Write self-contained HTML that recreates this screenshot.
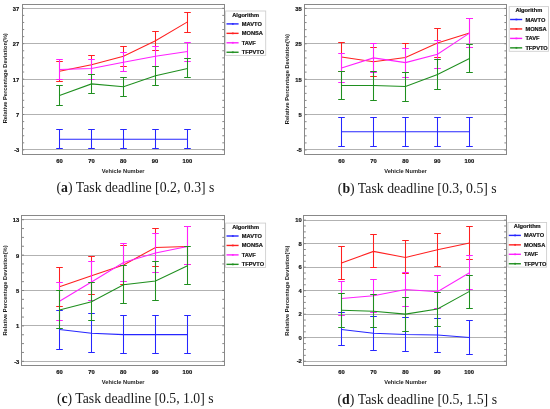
<!DOCTYPE html>
<html><head><meta charset="utf-8"><title>Figure</title>
<style>
html,body{margin:0;padding:0;background:#fff;}
body{width:550px;height:409px;overflow:hidden;}
svg{display:block;filter:blur(0.35px);}
.tk{font-family:'Liberation Sans', Arial, sans-serif;font-weight:bold;font-size:5.8px;fill:#111;stroke:#111;stroke-width:0.18px;}
.ax{font-family:'Liberation Sans', Arial, sans-serif;font-weight:bold;font-size:5.7px;fill:#1a1a1a;}
.lg{font-family:'Liberation Sans', Arial, sans-serif;font-weight:bold;font-size:5.7px;fill:#111;stroke:#111;stroke-width:0.18px;}
.cap{font-family:'Liberation Serif', 'Times New Roman', serif;font-size:14px;fill:#1a1a1a;}
</style></head>
<body>
<svg width="550" height="409" viewBox="0 0 550 409">
<rect width="550" height="409" fill="#fff"/>
<g>
<line x1="22" y1="149.5" x2="224.5" y2="149.5" stroke="#b2b2b2" stroke-width="1"/>
<line x1="22" y1="114.5" x2="224.5" y2="114.5" stroke="#b2b2b2" stroke-width="1"/>
<line x1="22" y1="79.5" x2="224.5" y2="79.5" stroke="#b2b2b2" stroke-width="1"/>
<line x1="22" y1="43.5" x2="224.5" y2="43.5" stroke="#b2b2b2" stroke-width="1"/>
<line x1="22" y1="8.5" x2="224.5" y2="8.5" stroke="#b2b2b2" stroke-width="1"/>
<line x1="22" y1="8.3" x2="24.2" y2="8.3" stroke="#7a7a7a" stroke-width="0.9"/>
<line x1="222.3" y1="8.3" x2="224.5" y2="8.3" stroke="#7a7a7a" stroke-width="0.9"/>
<line x1="22" y1="15.38" x2="24.2" y2="15.38" stroke="#7a7a7a" stroke-width="0.9"/>
<line x1="222.3" y1="15.38" x2="224.5" y2="15.38" stroke="#7a7a7a" stroke-width="0.9"/>
<line x1="22" y1="22.46" x2="24.2" y2="22.46" stroke="#7a7a7a" stroke-width="0.9"/>
<line x1="222.3" y1="22.46" x2="224.5" y2="22.46" stroke="#7a7a7a" stroke-width="0.9"/>
<line x1="22" y1="29.54" x2="24.2" y2="29.54" stroke="#7a7a7a" stroke-width="0.9"/>
<line x1="222.3" y1="29.54" x2="224.5" y2="29.54" stroke="#7a7a7a" stroke-width="0.9"/>
<line x1="22" y1="36.62" x2="24.2" y2="36.62" stroke="#7a7a7a" stroke-width="0.9"/>
<line x1="222.3" y1="36.62" x2="224.5" y2="36.62" stroke="#7a7a7a" stroke-width="0.9"/>
<line x1="22" y1="43.7" x2="24.2" y2="43.7" stroke="#7a7a7a" stroke-width="0.9"/>
<line x1="222.3" y1="43.7" x2="224.5" y2="43.7" stroke="#7a7a7a" stroke-width="0.9"/>
<line x1="22" y1="50.78" x2="24.2" y2="50.78" stroke="#7a7a7a" stroke-width="0.9"/>
<line x1="222.3" y1="50.78" x2="224.5" y2="50.78" stroke="#7a7a7a" stroke-width="0.9"/>
<line x1="22" y1="57.86" x2="24.2" y2="57.86" stroke="#7a7a7a" stroke-width="0.9"/>
<line x1="222.3" y1="57.86" x2="224.5" y2="57.86" stroke="#7a7a7a" stroke-width="0.9"/>
<line x1="22" y1="64.94" x2="24.2" y2="64.94" stroke="#7a7a7a" stroke-width="0.9"/>
<line x1="222.3" y1="64.94" x2="224.5" y2="64.94" stroke="#7a7a7a" stroke-width="0.9"/>
<line x1="22" y1="72.02" x2="24.2" y2="72.02" stroke="#7a7a7a" stroke-width="0.9"/>
<line x1="222.3" y1="72.02" x2="224.5" y2="72.02" stroke="#7a7a7a" stroke-width="0.9"/>
<line x1="22" y1="79.1" x2="24.2" y2="79.1" stroke="#7a7a7a" stroke-width="0.9"/>
<line x1="222.3" y1="79.1" x2="224.5" y2="79.1" stroke="#7a7a7a" stroke-width="0.9"/>
<line x1="22" y1="86.18" x2="24.2" y2="86.18" stroke="#7a7a7a" stroke-width="0.9"/>
<line x1="222.3" y1="86.18" x2="224.5" y2="86.18" stroke="#7a7a7a" stroke-width="0.9"/>
<line x1="22" y1="93.26" x2="24.2" y2="93.26" stroke="#7a7a7a" stroke-width="0.9"/>
<line x1="222.3" y1="93.26" x2="224.5" y2="93.26" stroke="#7a7a7a" stroke-width="0.9"/>
<line x1="22" y1="100.34" x2="24.2" y2="100.34" stroke="#7a7a7a" stroke-width="0.9"/>
<line x1="222.3" y1="100.34" x2="224.5" y2="100.34" stroke="#7a7a7a" stroke-width="0.9"/>
<line x1="22" y1="107.42" x2="24.2" y2="107.42" stroke="#7a7a7a" stroke-width="0.9"/>
<line x1="222.3" y1="107.42" x2="224.5" y2="107.42" stroke="#7a7a7a" stroke-width="0.9"/>
<line x1="22" y1="114.5" x2="24.2" y2="114.5" stroke="#7a7a7a" stroke-width="0.9"/>
<line x1="222.3" y1="114.5" x2="224.5" y2="114.5" stroke="#7a7a7a" stroke-width="0.9"/>
<line x1="22" y1="121.58" x2="24.2" y2="121.58" stroke="#7a7a7a" stroke-width="0.9"/>
<line x1="222.3" y1="121.58" x2="224.5" y2="121.58" stroke="#7a7a7a" stroke-width="0.9"/>
<line x1="22" y1="128.66" x2="24.2" y2="128.66" stroke="#7a7a7a" stroke-width="0.9"/>
<line x1="222.3" y1="128.66" x2="224.5" y2="128.66" stroke="#7a7a7a" stroke-width="0.9"/>
<line x1="22" y1="135.74" x2="24.2" y2="135.74" stroke="#7a7a7a" stroke-width="0.9"/>
<line x1="222.3" y1="135.74" x2="224.5" y2="135.74" stroke="#7a7a7a" stroke-width="0.9"/>
<line x1="22" y1="142.82" x2="24.2" y2="142.82" stroke="#7a7a7a" stroke-width="0.9"/>
<line x1="222.3" y1="142.82" x2="224.5" y2="142.82" stroke="#7a7a7a" stroke-width="0.9"/>
<line x1="22" y1="149.9" x2="24.2" y2="149.9" stroke="#7a7a7a" stroke-width="0.9"/>
<line x1="222.3" y1="149.9" x2="224.5" y2="149.9" stroke="#7a7a7a" stroke-width="0.9"/>
<rect x="22.5" y="4.5" width="202" height="150" fill="none" stroke="#888888" stroke-width="1"/>
<text x="19.3" y="152.3" class="tk" text-anchor="end">-3</text>
<text x="19.3" y="116.9" class="tk" text-anchor="end">7</text>
<text x="19.3" y="81.5" class="tk" text-anchor="end">17</text>
<text x="19.3" y="46.1" class="tk" text-anchor="end">27</text>
<text x="19.3" y="10.7" class="tk" text-anchor="end">37</text>
<text x="59.5" y="162.5" class="tk" text-anchor="middle">60</text>
<text x="91.4" y="162.5" class="tk" text-anchor="middle">70</text>
<text x="123.2" y="162.5" class="tk" text-anchor="middle">80</text>
<text x="155.1" y="162.5" class="tk" text-anchor="middle">90</text>
<text x="187.4" y="162.5" class="tk" text-anchor="middle">100</text>
<text x="123.2" y="172.8" class="ax" text-anchor="middle">Vehicle Number</text>
<text transform="translate(7.4,78.3) rotate(-90)" class="ax" text-anchor="middle">Relative Percentage Deviation(%)</text>
<polyline fill="none" stroke="#2626ff" stroke-width="1.05" points="59.5,139.3 91.5,139.3 123.5,139.3 155.5,139.3 187.5,139.3"/>
<path fill="none" stroke="#2626ff" stroke-width="1.05" d="M59.5 129.5V148.5M56.2 129.5H62.8M56.2 148.5H62.8"/>
<path fill="none" stroke="#2626ff" stroke-width="1.05" d="M91.5 129.5V148.5M88.2 129.5H94.8M88.2 148.5H94.8"/>
<path fill="none" stroke="#2626ff" stroke-width="1.05" d="M123.5 129.5V148.5M120.2 129.5H126.8M120.2 148.5H126.8"/>
<path fill="none" stroke="#2626ff" stroke-width="1.05" d="M155.5 129.5V148.5M152.2 129.5H158.8M152.2 148.5H158.8"/>
<path fill="none" stroke="#2626ff" stroke-width="1.05" d="M187.5 129.5V148.5M184.2 129.5H190.8M184.2 148.5H190.8"/>
<polyline fill="none" stroke="#ff2020" stroke-width="1.05" points="59.5,71.3 91.5,64.8 123.5,56.3 155.5,40.8 187.5,21.9"/>
<path fill="none" stroke="#ff2020" stroke-width="1.05" d="M59.5 61.5V81.5M56.2 61.5H62.8M56.2 81.5H62.8"/>
<path fill="none" stroke="#ff2020" stroke-width="1.05" d="M91.5 55.5V74.5M88.2 55.5H94.8M88.2 74.5H94.8"/>
<path fill="none" stroke="#ff2020" stroke-width="1.05" d="M123.5 46.5V66.5M120.2 46.5H126.8M120.2 66.5H126.8"/>
<path fill="none" stroke="#ff2020" stroke-width="1.05" d="M155.5 31.5V50.5M152.2 31.5H158.8M152.2 50.5H158.8"/>
<path fill="none" stroke="#ff2020" stroke-width="1.05" d="M187.5 12.5V32.5M184.2 12.5H190.8M184.2 32.5H190.8"/>
<polyline fill="none" stroke="#ff20ff" stroke-width="1.05" points="59.5,69.5 91.5,68.5 123.5,62.3 155.5,56.3 187.5,51.5"/>
<path fill="none" stroke="#ff20ff" stroke-width="1.05" d="M59.5 59.5V79.5M56.2 59.5H62.8M56.2 79.5H62.8"/>
<path fill="none" stroke="#ff20ff" stroke-width="1.05" d="M91.5 59.5V79.5M88.2 59.5H94.8M88.2 79.5H94.8"/>
<path fill="none" stroke="#ff20ff" stroke-width="1.05" d="M123.5 52.5V71.5M120.2 52.5H126.8M120.2 71.5H126.8"/>
<path fill="none" stroke="#ff20ff" stroke-width="1.05" d="M155.5 46.5V66.5M152.2 46.5H158.8M152.2 66.5H158.8"/>
<path fill="none" stroke="#ff20ff" stroke-width="1.05" d="M187.5 42.5V61.5M184.2 42.5H190.8M184.2 61.5H190.8"/>
<polyline fill="none" stroke="#1f8f1f" stroke-width="1.05" points="59.5,95.5 91.5,83.9 123.5,86.8 155.5,75.7 187.5,68.4"/>
<path fill="none" stroke="#1f8f1f" stroke-width="1.05" d="M59.5 85.5V105.5M56.2 85.5H62.8M56.2 105.5H62.8"/>
<path fill="none" stroke="#1f8f1f" stroke-width="1.05" d="M91.5 74.5V93.5M88.2 74.5H94.8M88.2 93.5H94.8"/>
<path fill="none" stroke="#1f8f1f" stroke-width="1.05" d="M123.5 77.5V96.5M120.2 77.5H126.8M120.2 96.5H126.8"/>
<path fill="none" stroke="#1f8f1f" stroke-width="1.05" d="M155.5 66.5V85.5M152.2 66.5H158.8M152.2 85.5H158.8"/>
<path fill="none" stroke="#1f8f1f" stroke-width="1.05" d="M187.5 58.5V77.5M184.2 58.5H190.8M184.2 77.5H190.8"/>
<rect x="225.6" y="11" width="40.1" height="44.4" fill="#fff" stroke="#cfcfcf" stroke-width="0.9"/>
<text x="245.65" y="16.8" class="lg" text-anchor="middle">Algorithm</text>
<line x1="226.5" y1="23.9" x2="238.6" y2="23.9" stroke="#2626ff" stroke-width="1.4"/>
<rect x="231.9" y="23" width="1.8" height="1.8" fill="#2626ff" opacity="0.8"/>
<text x="241.8" y="25.9" class="lg">MAVTO</text>
<line x1="226.5" y1="33.35" x2="238.6" y2="33.35" stroke="#ff2020" stroke-width="1.4"/>
<rect x="231.9" y="32.45" width="1.8" height="1.8" fill="#ff2020" opacity="0.8"/>
<text x="241.8" y="35.35" class="lg">MONSA</text>
<line x1="226.5" y1="42.8" x2="238.6" y2="42.8" stroke="#ff20ff" stroke-width="1.4"/>
<rect x="231.9" y="41.9" width="1.8" height="1.8" fill="#ff20ff" opacity="0.8"/>
<text x="241.8" y="44.8" class="lg">TAVF</text>
<line x1="226.5" y1="52.25" x2="238.6" y2="52.25" stroke="#1f8f1f" stroke-width="1.4"/>
<rect x="231.9" y="51.35" width="1.8" height="1.8" fill="#1f8f1f" opacity="0.8"/>
<text x="241.8" y="54.25" class="lg">TFPVTO</text>
<text x="56.4" y="192.4" class="cap" textLength="158.1" lengthAdjust="spacingAndGlyphs">(<tspan font-weight="bold">a</tspan>) Task deadline [0.2, 0.3] s</text>
</g>
<g>
<line x1="304.4" y1="149.5" x2="506.6" y2="149.5" stroke="#b2b2b2" stroke-width="1"/>
<line x1="304.4" y1="114.5" x2="506.6" y2="114.5" stroke="#b2b2b2" stroke-width="1"/>
<line x1="304.4" y1="79.5" x2="506.6" y2="79.5" stroke="#b2b2b2" stroke-width="1"/>
<line x1="304.4" y1="43.5" x2="506.6" y2="43.5" stroke="#b2b2b2" stroke-width="1"/>
<line x1="304.4" y1="8.5" x2="506.6" y2="8.5" stroke="#b2b2b2" stroke-width="1"/>
<line x1="304.4" y1="8.4" x2="306.6" y2="8.4" stroke="#7a7a7a" stroke-width="0.9"/>
<line x1="504.4" y1="8.4" x2="506.6" y2="8.4" stroke="#7a7a7a" stroke-width="0.9"/>
<line x1="304.4" y1="15.48" x2="306.6" y2="15.48" stroke="#7a7a7a" stroke-width="0.9"/>
<line x1="504.4" y1="15.48" x2="506.6" y2="15.48" stroke="#7a7a7a" stroke-width="0.9"/>
<line x1="304.4" y1="22.56" x2="306.6" y2="22.56" stroke="#7a7a7a" stroke-width="0.9"/>
<line x1="504.4" y1="22.56" x2="506.6" y2="22.56" stroke="#7a7a7a" stroke-width="0.9"/>
<line x1="304.4" y1="29.64" x2="306.6" y2="29.64" stroke="#7a7a7a" stroke-width="0.9"/>
<line x1="504.4" y1="29.64" x2="506.6" y2="29.64" stroke="#7a7a7a" stroke-width="0.9"/>
<line x1="304.4" y1="36.72" x2="306.6" y2="36.72" stroke="#7a7a7a" stroke-width="0.9"/>
<line x1="504.4" y1="36.72" x2="506.6" y2="36.72" stroke="#7a7a7a" stroke-width="0.9"/>
<line x1="304.4" y1="43.8" x2="306.6" y2="43.8" stroke="#7a7a7a" stroke-width="0.9"/>
<line x1="504.4" y1="43.8" x2="506.6" y2="43.8" stroke="#7a7a7a" stroke-width="0.9"/>
<line x1="304.4" y1="50.88" x2="306.6" y2="50.88" stroke="#7a7a7a" stroke-width="0.9"/>
<line x1="504.4" y1="50.88" x2="506.6" y2="50.88" stroke="#7a7a7a" stroke-width="0.9"/>
<line x1="304.4" y1="57.96" x2="306.6" y2="57.96" stroke="#7a7a7a" stroke-width="0.9"/>
<line x1="504.4" y1="57.96" x2="506.6" y2="57.96" stroke="#7a7a7a" stroke-width="0.9"/>
<line x1="304.4" y1="65.04" x2="306.6" y2="65.04" stroke="#7a7a7a" stroke-width="0.9"/>
<line x1="504.4" y1="65.04" x2="506.6" y2="65.04" stroke="#7a7a7a" stroke-width="0.9"/>
<line x1="304.4" y1="72.12" x2="306.6" y2="72.12" stroke="#7a7a7a" stroke-width="0.9"/>
<line x1="504.4" y1="72.12" x2="506.6" y2="72.12" stroke="#7a7a7a" stroke-width="0.9"/>
<line x1="304.4" y1="79.2" x2="306.6" y2="79.2" stroke="#7a7a7a" stroke-width="0.9"/>
<line x1="504.4" y1="79.2" x2="506.6" y2="79.2" stroke="#7a7a7a" stroke-width="0.9"/>
<line x1="304.4" y1="86.28" x2="306.6" y2="86.28" stroke="#7a7a7a" stroke-width="0.9"/>
<line x1="504.4" y1="86.28" x2="506.6" y2="86.28" stroke="#7a7a7a" stroke-width="0.9"/>
<line x1="304.4" y1="93.36" x2="306.6" y2="93.36" stroke="#7a7a7a" stroke-width="0.9"/>
<line x1="504.4" y1="93.36" x2="506.6" y2="93.36" stroke="#7a7a7a" stroke-width="0.9"/>
<line x1="304.4" y1="100.44" x2="306.6" y2="100.44" stroke="#7a7a7a" stroke-width="0.9"/>
<line x1="504.4" y1="100.44" x2="506.6" y2="100.44" stroke="#7a7a7a" stroke-width="0.9"/>
<line x1="304.4" y1="107.52" x2="306.6" y2="107.52" stroke="#7a7a7a" stroke-width="0.9"/>
<line x1="504.4" y1="107.52" x2="506.6" y2="107.52" stroke="#7a7a7a" stroke-width="0.9"/>
<line x1="304.4" y1="114.6" x2="306.6" y2="114.6" stroke="#7a7a7a" stroke-width="0.9"/>
<line x1="504.4" y1="114.6" x2="506.6" y2="114.6" stroke="#7a7a7a" stroke-width="0.9"/>
<line x1="304.4" y1="121.68" x2="306.6" y2="121.68" stroke="#7a7a7a" stroke-width="0.9"/>
<line x1="504.4" y1="121.68" x2="506.6" y2="121.68" stroke="#7a7a7a" stroke-width="0.9"/>
<line x1="304.4" y1="128.76" x2="306.6" y2="128.76" stroke="#7a7a7a" stroke-width="0.9"/>
<line x1="504.4" y1="128.76" x2="506.6" y2="128.76" stroke="#7a7a7a" stroke-width="0.9"/>
<line x1="304.4" y1="135.84" x2="306.6" y2="135.84" stroke="#7a7a7a" stroke-width="0.9"/>
<line x1="504.4" y1="135.84" x2="506.6" y2="135.84" stroke="#7a7a7a" stroke-width="0.9"/>
<line x1="304.4" y1="142.92" x2="306.6" y2="142.92" stroke="#7a7a7a" stroke-width="0.9"/>
<line x1="504.4" y1="142.92" x2="506.6" y2="142.92" stroke="#7a7a7a" stroke-width="0.9"/>
<line x1="304.4" y1="150" x2="306.6" y2="150" stroke="#7a7a7a" stroke-width="0.9"/>
<line x1="504.4" y1="150" x2="506.6" y2="150" stroke="#7a7a7a" stroke-width="0.9"/>
<rect x="304.5" y="4.5" width="202" height="150" fill="none" stroke="#888888" stroke-width="1"/>
<text x="301.8" y="152.2" class="tk" text-anchor="end">-5</text>
<text x="301.8" y="116.9" class="tk" text-anchor="end">5</text>
<text x="301.8" y="81.7" class="tk" text-anchor="end">15</text>
<text x="301.8" y="46.2" class="tk" text-anchor="end">25</text>
<text x="301.8" y="10.8" class="tk" text-anchor="end">35</text>
<text x="341.5" y="162.5" class="tk" text-anchor="middle">60</text>
<text x="373.4" y="162.5" class="tk" text-anchor="middle">70</text>
<text x="405.4" y="162.5" class="tk" text-anchor="middle">80</text>
<text x="437.3" y="162.5" class="tk" text-anchor="middle">90</text>
<text x="469.4" y="162.5" class="tk" text-anchor="middle">100</text>
<text x="405.5" y="172.6" class="ax" text-anchor="middle">Vehicle Number</text>
<text transform="translate(288.6,79.1) rotate(-90)" class="ax" text-anchor="middle">Relative Percentage Deviation(%)</text>
<polyline fill="none" stroke="#2626ff" stroke-width="1.05" points="341.5,131.8 373.5,131.8 405.5,131.8 437.5,131.8 469.5,131.8"/>
<path fill="none" stroke="#2626ff" stroke-width="1.05" d="M341.5 117.5V146.5M338.2 117.5H344.8M338.2 146.5H344.8"/>
<path fill="none" stroke="#2626ff" stroke-width="1.05" d="M373.5 117.5V146.5M370.2 117.5H376.8M370.2 146.5H376.8"/>
<path fill="none" stroke="#2626ff" stroke-width="1.05" d="M405.5 117.5V146.5M402.2 117.5H408.8M402.2 146.5H408.8"/>
<path fill="none" stroke="#2626ff" stroke-width="1.05" d="M437.5 117.5V146.5M434.2 117.5H440.8M434.2 146.5H440.8"/>
<path fill="none" stroke="#2626ff" stroke-width="1.05" d="M469.5 117.5V146.5M466.2 117.5H472.8M466.2 146.5H472.8"/>
<polyline fill="none" stroke="#ff2020" stroke-width="1.05" points="341.5,57.1 373.5,61.8 405.5,57.4 437.5,43.1 469.5,33.1"/>
<path fill="none" stroke="#ff2020" stroke-width="1.05" d="M341.5 42.5V71.5M338.2 42.5H344.8M338.2 71.5H344.8"/>
<path fill="none" stroke="#ff2020" stroke-width="1.05" d="M373.5 47.5V76.5M370.2 47.5H376.8M370.2 76.5H376.8"/>
<path fill="none" stroke="#ff2020" stroke-width="1.05" d="M405.5 43.5V72.5M402.2 43.5H408.8M402.2 72.5H408.8"/>
<path fill="none" stroke="#ff2020" stroke-width="1.05" d="M437.5 28.5V57.5M434.2 28.5H440.8M434.2 57.5H440.8"/>
<path fill="none" stroke="#ff2020" stroke-width="1.05" d="M469.5 18.5V47.5M466.2 18.5H472.8M466.2 47.5H472.8"/>
<polyline fill="none" stroke="#ff20ff" stroke-width="1.05" points="341.5,67.9 373.5,57.9 405.5,62.6 437.5,54.2 469.5,33.1"/>
<path fill="none" stroke="#ff20ff" stroke-width="1.05" d="M341.5 53.5V82.5M338.2 53.5H344.8M338.2 82.5H344.8"/>
<path fill="none" stroke="#ff20ff" stroke-width="1.05" d="M373.5 43.5V72.5M370.2 43.5H376.8M370.2 72.5H376.8"/>
<path fill="none" stroke="#ff20ff" stroke-width="1.05" d="M405.5 48.5V77.5M402.2 48.5H408.8M402.2 77.5H408.8"/>
<path fill="none" stroke="#ff20ff" stroke-width="1.05" d="M437.5 40.5V68.5M434.2 40.5H440.8M434.2 68.5H440.8"/>
<path fill="none" stroke="#ff20ff" stroke-width="1.05" d="M469.5 18.5V47.5M466.2 18.5H472.8M466.2 47.5H472.8"/>
<polyline fill="none" stroke="#1f8f1f" stroke-width="1.05" points="341.5,85.4 373.5,85.4 405.5,86.5 437.5,74.4 469.5,58.5"/>
<path fill="none" stroke="#1f8f1f" stroke-width="1.05" d="M341.5 71.5V99.5M338.2 71.5H344.8M338.2 99.5H344.8"/>
<path fill="none" stroke="#1f8f1f" stroke-width="1.05" d="M373.5 71.5V100.5M370.2 71.5H376.8M370.2 100.5H376.8"/>
<path fill="none" stroke="#1f8f1f" stroke-width="1.05" d="M405.5 72.5V101.5M402.2 72.5H408.8M402.2 101.5H408.8"/>
<path fill="none" stroke="#1f8f1f" stroke-width="1.05" d="M437.5 59.5V89.5M434.2 59.5H440.8M434.2 89.5H440.8"/>
<path fill="none" stroke="#1f8f1f" stroke-width="1.05" d="M469.5 44.5V72.5M466.2 44.5H472.8M466.2 72.5H472.8"/>
<rect x="509.2" y="6.6" width="39.3" height="44.7" fill="#fff" stroke="#cfcfcf" stroke-width="0.9"/>
<text x="528.85" y="12.4" class="lg" text-anchor="middle">Algorithm</text>
<line x1="510.1" y1="19.5" x2="522.2" y2="19.5" stroke="#2626ff" stroke-width="1.4"/>
<rect x="515.5" y="18.6" width="1.8" height="1.8" fill="#2626ff" opacity="0.8"/>
<text x="525.4" y="21.5" class="lg">MAVTO</text>
<line x1="510.1" y1="28.95" x2="522.2" y2="28.95" stroke="#ff2020" stroke-width="1.4"/>
<rect x="515.5" y="28.05" width="1.8" height="1.8" fill="#ff2020" opacity="0.8"/>
<text x="525.4" y="30.95" class="lg">MONSA</text>
<line x1="510.1" y1="38.4" x2="522.2" y2="38.4" stroke="#ff20ff" stroke-width="1.4"/>
<rect x="515.5" y="37.5" width="1.8" height="1.8" fill="#ff20ff" opacity="0.8"/>
<text x="525.4" y="40.4" class="lg">TAVF</text>
<line x1="510.1" y1="47.85" x2="522.2" y2="47.85" stroke="#1f8f1f" stroke-width="1.4"/>
<rect x="515.5" y="46.95" width="1.8" height="1.8" fill="#1f8f1f" opacity="0.8"/>
<text x="525.4" y="49.85" class="lg">TFPVTO</text>
<text x="337.8" y="192.7" class="cap" textLength="158.9" lengthAdjust="spacingAndGlyphs">(<tspan font-weight="bold">b</tspan>) Task deadline [0.3, 0.5] s</text>
</g>
<g>
<line x1="21.8" y1="361.5" x2="224.5" y2="361.5" stroke="#b2b2b2" stroke-width="1"/>
<line x1="21.8" y1="325.5" x2="224.5" y2="325.5" stroke="#b2b2b2" stroke-width="1"/>
<line x1="21.8" y1="290.5" x2="224.5" y2="290.5" stroke="#b2b2b2" stroke-width="1"/>
<line x1="21.8" y1="255.5" x2="224.5" y2="255.5" stroke="#b2b2b2" stroke-width="1"/>
<line x1="21.8" y1="219.5" x2="224.5" y2="219.5" stroke="#b2b2b2" stroke-width="1"/>
<line x1="21.8" y1="219.7" x2="24" y2="219.7" stroke="#7a7a7a" stroke-width="0.9"/>
<line x1="222.3" y1="219.7" x2="224.5" y2="219.7" stroke="#7a7a7a" stroke-width="0.9"/>
<line x1="21.8" y1="228.55" x2="24" y2="228.55" stroke="#7a7a7a" stroke-width="0.9"/>
<line x1="222.3" y1="228.55" x2="224.5" y2="228.55" stroke="#7a7a7a" stroke-width="0.9"/>
<line x1="21.8" y1="237.4" x2="24" y2="237.4" stroke="#7a7a7a" stroke-width="0.9"/>
<line x1="222.3" y1="237.4" x2="224.5" y2="237.4" stroke="#7a7a7a" stroke-width="0.9"/>
<line x1="21.8" y1="246.25" x2="24" y2="246.25" stroke="#7a7a7a" stroke-width="0.9"/>
<line x1="222.3" y1="246.25" x2="224.5" y2="246.25" stroke="#7a7a7a" stroke-width="0.9"/>
<line x1="21.8" y1="255.1" x2="24" y2="255.1" stroke="#7a7a7a" stroke-width="0.9"/>
<line x1="222.3" y1="255.1" x2="224.5" y2="255.1" stroke="#7a7a7a" stroke-width="0.9"/>
<line x1="21.8" y1="263.95" x2="24" y2="263.95" stroke="#7a7a7a" stroke-width="0.9"/>
<line x1="222.3" y1="263.95" x2="224.5" y2="263.95" stroke="#7a7a7a" stroke-width="0.9"/>
<line x1="21.8" y1="272.8" x2="24" y2="272.8" stroke="#7a7a7a" stroke-width="0.9"/>
<line x1="222.3" y1="272.8" x2="224.5" y2="272.8" stroke="#7a7a7a" stroke-width="0.9"/>
<line x1="21.8" y1="281.65" x2="24" y2="281.65" stroke="#7a7a7a" stroke-width="0.9"/>
<line x1="222.3" y1="281.65" x2="224.5" y2="281.65" stroke="#7a7a7a" stroke-width="0.9"/>
<line x1="21.8" y1="290.5" x2="24" y2="290.5" stroke="#7a7a7a" stroke-width="0.9"/>
<line x1="222.3" y1="290.5" x2="224.5" y2="290.5" stroke="#7a7a7a" stroke-width="0.9"/>
<line x1="21.8" y1="299.35" x2="24" y2="299.35" stroke="#7a7a7a" stroke-width="0.9"/>
<line x1="222.3" y1="299.35" x2="224.5" y2="299.35" stroke="#7a7a7a" stroke-width="0.9"/>
<line x1="21.8" y1="308.2" x2="24" y2="308.2" stroke="#7a7a7a" stroke-width="0.9"/>
<line x1="222.3" y1="308.2" x2="224.5" y2="308.2" stroke="#7a7a7a" stroke-width="0.9"/>
<line x1="21.8" y1="317.05" x2="24" y2="317.05" stroke="#7a7a7a" stroke-width="0.9"/>
<line x1="222.3" y1="317.05" x2="224.5" y2="317.05" stroke="#7a7a7a" stroke-width="0.9"/>
<line x1="21.8" y1="325.9" x2="24" y2="325.9" stroke="#7a7a7a" stroke-width="0.9"/>
<line x1="222.3" y1="325.9" x2="224.5" y2="325.9" stroke="#7a7a7a" stroke-width="0.9"/>
<line x1="21.8" y1="334.75" x2="24" y2="334.75" stroke="#7a7a7a" stroke-width="0.9"/>
<line x1="222.3" y1="334.75" x2="224.5" y2="334.75" stroke="#7a7a7a" stroke-width="0.9"/>
<line x1="21.8" y1="343.6" x2="24" y2="343.6" stroke="#7a7a7a" stroke-width="0.9"/>
<line x1="222.3" y1="343.6" x2="224.5" y2="343.6" stroke="#7a7a7a" stroke-width="0.9"/>
<line x1="21.8" y1="352.45" x2="24" y2="352.45" stroke="#7a7a7a" stroke-width="0.9"/>
<line x1="222.3" y1="352.45" x2="224.5" y2="352.45" stroke="#7a7a7a" stroke-width="0.9"/>
<line x1="21.8" y1="361.3" x2="24" y2="361.3" stroke="#7a7a7a" stroke-width="0.9"/>
<line x1="222.3" y1="361.3" x2="224.5" y2="361.3" stroke="#7a7a7a" stroke-width="0.9"/>
<rect x="21.5" y="215.5" width="203" height="150" fill="none" stroke="#888888" stroke-width="1"/>
<text x="19.3" y="363.8" class="tk" text-anchor="end">-3</text>
<text x="19.3" y="328.3" class="tk" text-anchor="end">1</text>
<text x="19.3" y="292.9" class="tk" text-anchor="end">5</text>
<text x="19.3" y="257.6" class="tk" text-anchor="end">9</text>
<text x="19.3" y="222.1" class="tk" text-anchor="end">13</text>
<text x="59.5" y="373.8" class="tk" text-anchor="middle">60</text>
<text x="91.4" y="373.8" class="tk" text-anchor="middle">70</text>
<text x="123.2" y="373.8" class="tk" text-anchor="middle">80</text>
<text x="155.2" y="373.8" class="tk" text-anchor="middle">90</text>
<text x="187.3" y="373.8" class="tk" text-anchor="middle">100</text>
<text x="123.2" y="384.2" class="ax" text-anchor="middle">Vehicle Number</text>
<text transform="translate(7.4,290.5) rotate(-90)" class="ax" text-anchor="middle">Relative Percentage Deviation(%)</text>
<polyline fill="none" stroke="#2626ff" stroke-width="1.05" points="59.5,329.6 91.5,333.2 123.5,334.6 155.5,334.6 187.5,334.6"/>
<path fill="none" stroke="#2626ff" stroke-width="1.05" d="M59.5 310.5V349.5M56.2 310.5H62.8M56.2 349.5H62.8"/>
<path fill="none" stroke="#2626ff" stroke-width="1.05" d="M91.5 313.5V352.5M88.2 313.5H94.8M88.2 352.5H94.8"/>
<path fill="none" stroke="#2626ff" stroke-width="1.05" d="M123.5 315.5V353.5M120.2 315.5H126.8M120.2 353.5H126.8"/>
<path fill="none" stroke="#2626ff" stroke-width="1.05" d="M155.5 315.5V353.5M152.2 315.5H158.8M152.2 353.5H158.8"/>
<path fill="none" stroke="#2626ff" stroke-width="1.05" d="M187.5 315.5V353.5M184.2 315.5H190.8M184.2 353.5H190.8"/>
<polyline fill="none" stroke="#ff2020" stroke-width="1.05" points="59.5,286.7 91.5,275.8 123.5,264.9 155.5,247.5 187.5,246.4"/>
<path fill="none" stroke="#ff2020" stroke-width="1.05" d="M59.5 267.5V306.5M56.2 267.5H62.8M56.2 306.5H62.8"/>
<path fill="none" stroke="#ff2020" stroke-width="1.05" d="M91.5 256.5V294.5M88.2 256.5H94.8M88.2 294.5H94.8"/>
<path fill="none" stroke="#ff2020" stroke-width="1.05" d="M123.5 245.5V284.5M120.2 245.5H126.8M120.2 284.5H126.8"/>
<path fill="none" stroke="#ff2020" stroke-width="1.05" d="M155.5 228.5V266.5M152.2 228.5H158.8M152.2 266.5H158.8"/>
<path fill="none" stroke="#ff2020" stroke-width="1.05" d="M187.5 226.5V264.5M184.2 226.5H190.8M184.2 264.5H190.8"/>
<polyline fill="none" stroke="#ff20ff" stroke-width="1.05" points="59.5,301.2 91.5,282 123.5,262.6 155.5,253 187.5,246.4"/>
<path fill="none" stroke="#ff20ff" stroke-width="1.05" d="M59.5 282.5V320.5M56.2 282.5H62.8M56.2 320.5H62.8"/>
<path fill="none" stroke="#ff20ff" stroke-width="1.05" d="M91.5 261.5V300.5M88.2 261.5H94.8M88.2 300.5H94.8"/>
<path fill="none" stroke="#ff20ff" stroke-width="1.05" d="M123.5 243.5V281.5M120.2 243.5H126.8M120.2 281.5H126.8"/>
<path fill="none" stroke="#ff20ff" stroke-width="1.05" d="M155.5 233.5V272.5M152.2 233.5H158.8M152.2 272.5H158.8"/>
<path fill="none" stroke="#ff20ff" stroke-width="1.05" d="M187.5 226.5V264.5M184.2 226.5H190.8M184.2 264.5H190.8"/>
<polyline fill="none" stroke="#1f8f1f" stroke-width="1.05" points="59.5,310.1 91.5,301.8 123.5,284.8 155.5,280.9 187.5,265.7"/>
<path fill="none" stroke="#1f8f1f" stroke-width="1.05" d="M59.5 290.5V328.5M56.2 290.5H62.8M56.2 328.5H62.8"/>
<path fill="none" stroke="#1f8f1f" stroke-width="1.05" d="M91.5 282.5V320.5M88.2 282.5H94.8M88.2 320.5H94.8"/>
<path fill="none" stroke="#1f8f1f" stroke-width="1.05" d="M123.5 265.5V303.5M120.2 265.5H126.8M120.2 303.5H126.8"/>
<path fill="none" stroke="#1f8f1f" stroke-width="1.05" d="M155.5 261.5V300.5M152.2 261.5H158.8M152.2 300.5H158.8"/>
<path fill="none" stroke="#1f8f1f" stroke-width="1.05" d="M187.5 246.5V284.5M184.2 246.5H190.8M184.2 284.5H190.8"/>
<rect x="225.6" y="223.1" width="40" height="44.4" fill="#fff" stroke="#cfcfcf" stroke-width="0.9"/>
<text x="245.6" y="228.9" class="lg" text-anchor="middle">Algorithm</text>
<line x1="226.5" y1="236" x2="238.6" y2="236" stroke="#2626ff" stroke-width="1.4"/>
<rect x="231.9" y="235.1" width="1.8" height="1.8" fill="#2626ff" opacity="0.8"/>
<text x="241.8" y="238" class="lg">MAVTO</text>
<line x1="226.5" y1="245.45" x2="238.6" y2="245.45" stroke="#ff2020" stroke-width="1.4"/>
<rect x="231.9" y="244.55" width="1.8" height="1.8" fill="#ff2020" opacity="0.8"/>
<text x="241.8" y="247.45" class="lg">MONSA</text>
<line x1="226.5" y1="254.9" x2="238.6" y2="254.9" stroke="#ff20ff" stroke-width="1.4"/>
<rect x="231.9" y="254" width="1.8" height="1.8" fill="#ff20ff" opacity="0.8"/>
<text x="241.8" y="256.9" class="lg">TAVF</text>
<line x1="226.5" y1="264.35" x2="238.6" y2="264.35" stroke="#1f8f1f" stroke-width="1.4"/>
<rect x="231.9" y="263.45" width="1.8" height="1.8" fill="#1f8f1f" opacity="0.8"/>
<text x="241.8" y="266.35" class="lg">TFPVTO</text>
<text x="56.9" y="403.3" class="cap" textLength="156.7" lengthAdjust="spacingAndGlyphs">(<tspan font-weight="bold">c</tspan>) Task deadline [0.5, 1.0] s</text>
</g>
<g>
<line x1="303.6" y1="361.5" x2="506.3" y2="361.5" stroke="#b2b2b2" stroke-width="1"/>
<line x1="303.6" y1="337.5" x2="506.3" y2="337.5" stroke="#b2b2b2" stroke-width="1"/>
<line x1="303.6" y1="314.5" x2="506.3" y2="314.5" stroke="#b2b2b2" stroke-width="1"/>
<line x1="303.6" y1="290.5" x2="506.3" y2="290.5" stroke="#b2b2b2" stroke-width="1"/>
<line x1="303.6" y1="267.5" x2="506.3" y2="267.5" stroke="#b2b2b2" stroke-width="1"/>
<line x1="303.6" y1="243.5" x2="506.3" y2="243.5" stroke="#b2b2b2" stroke-width="1"/>
<line x1="303.6" y1="220.5" x2="506.3" y2="220.5" stroke="#b2b2b2" stroke-width="1"/>
<line x1="303.6" y1="220.1" x2="305.8" y2="220.1" stroke="#7a7a7a" stroke-width="0.9"/>
<line x1="504.1" y1="220.1" x2="506.3" y2="220.1" stroke="#7a7a7a" stroke-width="0.9"/>
<line x1="303.6" y1="225.98" x2="305.8" y2="225.98" stroke="#7a7a7a" stroke-width="0.9"/>
<line x1="504.1" y1="225.98" x2="506.3" y2="225.98" stroke="#7a7a7a" stroke-width="0.9"/>
<line x1="303.6" y1="231.86" x2="305.8" y2="231.86" stroke="#7a7a7a" stroke-width="0.9"/>
<line x1="504.1" y1="231.86" x2="506.3" y2="231.86" stroke="#7a7a7a" stroke-width="0.9"/>
<line x1="303.6" y1="237.74" x2="305.8" y2="237.74" stroke="#7a7a7a" stroke-width="0.9"/>
<line x1="504.1" y1="237.74" x2="506.3" y2="237.74" stroke="#7a7a7a" stroke-width="0.9"/>
<line x1="303.6" y1="243.62" x2="305.8" y2="243.62" stroke="#7a7a7a" stroke-width="0.9"/>
<line x1="504.1" y1="243.62" x2="506.3" y2="243.62" stroke="#7a7a7a" stroke-width="0.9"/>
<line x1="303.6" y1="249.5" x2="305.8" y2="249.5" stroke="#7a7a7a" stroke-width="0.9"/>
<line x1="504.1" y1="249.5" x2="506.3" y2="249.5" stroke="#7a7a7a" stroke-width="0.9"/>
<line x1="303.6" y1="255.38" x2="305.8" y2="255.38" stroke="#7a7a7a" stroke-width="0.9"/>
<line x1="504.1" y1="255.38" x2="506.3" y2="255.38" stroke="#7a7a7a" stroke-width="0.9"/>
<line x1="303.6" y1="261.26" x2="305.8" y2="261.26" stroke="#7a7a7a" stroke-width="0.9"/>
<line x1="504.1" y1="261.26" x2="506.3" y2="261.26" stroke="#7a7a7a" stroke-width="0.9"/>
<line x1="303.6" y1="267.14" x2="305.8" y2="267.14" stroke="#7a7a7a" stroke-width="0.9"/>
<line x1="504.1" y1="267.14" x2="506.3" y2="267.14" stroke="#7a7a7a" stroke-width="0.9"/>
<line x1="303.6" y1="273.02" x2="305.8" y2="273.02" stroke="#7a7a7a" stroke-width="0.9"/>
<line x1="504.1" y1="273.02" x2="506.3" y2="273.02" stroke="#7a7a7a" stroke-width="0.9"/>
<line x1="303.6" y1="278.9" x2="305.8" y2="278.9" stroke="#7a7a7a" stroke-width="0.9"/>
<line x1="504.1" y1="278.9" x2="506.3" y2="278.9" stroke="#7a7a7a" stroke-width="0.9"/>
<line x1="303.6" y1="284.78" x2="305.8" y2="284.78" stroke="#7a7a7a" stroke-width="0.9"/>
<line x1="504.1" y1="284.78" x2="506.3" y2="284.78" stroke="#7a7a7a" stroke-width="0.9"/>
<line x1="303.6" y1="290.66" x2="305.8" y2="290.66" stroke="#7a7a7a" stroke-width="0.9"/>
<line x1="504.1" y1="290.66" x2="506.3" y2="290.66" stroke="#7a7a7a" stroke-width="0.9"/>
<line x1="303.6" y1="296.54" x2="305.8" y2="296.54" stroke="#7a7a7a" stroke-width="0.9"/>
<line x1="504.1" y1="296.54" x2="506.3" y2="296.54" stroke="#7a7a7a" stroke-width="0.9"/>
<line x1="303.6" y1="302.42" x2="305.8" y2="302.42" stroke="#7a7a7a" stroke-width="0.9"/>
<line x1="504.1" y1="302.42" x2="506.3" y2="302.42" stroke="#7a7a7a" stroke-width="0.9"/>
<line x1="303.6" y1="308.3" x2="305.8" y2="308.3" stroke="#7a7a7a" stroke-width="0.9"/>
<line x1="504.1" y1="308.3" x2="506.3" y2="308.3" stroke="#7a7a7a" stroke-width="0.9"/>
<line x1="303.6" y1="314.18" x2="305.8" y2="314.18" stroke="#7a7a7a" stroke-width="0.9"/>
<line x1="504.1" y1="314.18" x2="506.3" y2="314.18" stroke="#7a7a7a" stroke-width="0.9"/>
<line x1="303.6" y1="320.06" x2="305.8" y2="320.06" stroke="#7a7a7a" stroke-width="0.9"/>
<line x1="504.1" y1="320.06" x2="506.3" y2="320.06" stroke="#7a7a7a" stroke-width="0.9"/>
<line x1="303.6" y1="325.94" x2="305.8" y2="325.94" stroke="#7a7a7a" stroke-width="0.9"/>
<line x1="504.1" y1="325.94" x2="506.3" y2="325.94" stroke="#7a7a7a" stroke-width="0.9"/>
<line x1="303.6" y1="331.82" x2="305.8" y2="331.82" stroke="#7a7a7a" stroke-width="0.9"/>
<line x1="504.1" y1="331.82" x2="506.3" y2="331.82" stroke="#7a7a7a" stroke-width="0.9"/>
<line x1="303.6" y1="337.7" x2="305.8" y2="337.7" stroke="#7a7a7a" stroke-width="0.9"/>
<line x1="504.1" y1="337.7" x2="506.3" y2="337.7" stroke="#7a7a7a" stroke-width="0.9"/>
<line x1="303.6" y1="343.58" x2="305.8" y2="343.58" stroke="#7a7a7a" stroke-width="0.9"/>
<line x1="504.1" y1="343.58" x2="506.3" y2="343.58" stroke="#7a7a7a" stroke-width="0.9"/>
<line x1="303.6" y1="349.46" x2="305.8" y2="349.46" stroke="#7a7a7a" stroke-width="0.9"/>
<line x1="504.1" y1="349.46" x2="506.3" y2="349.46" stroke="#7a7a7a" stroke-width="0.9"/>
<line x1="303.6" y1="355.34" x2="305.8" y2="355.34" stroke="#7a7a7a" stroke-width="0.9"/>
<line x1="504.1" y1="355.34" x2="506.3" y2="355.34" stroke="#7a7a7a" stroke-width="0.9"/>
<line x1="303.6" y1="361.22" x2="305.8" y2="361.22" stroke="#7a7a7a" stroke-width="0.9"/>
<line x1="504.1" y1="361.22" x2="506.3" y2="361.22" stroke="#7a7a7a" stroke-width="0.9"/>
<rect x="303.5" y="215.5" width="203" height="150" fill="none" stroke="#888888" stroke-width="1"/>
<text x="301.8" y="363.2" class="tk" text-anchor="end">-2</text>
<text x="301.8" y="339.6" class="tk" text-anchor="end">0</text>
<text x="301.8" y="316.1" class="tk" text-anchor="end">2</text>
<text x="301.8" y="292.5" class="tk" text-anchor="end">4</text>
<text x="301.8" y="269" class="tk" text-anchor="end">6</text>
<text x="301.8" y="245.5" class="tk" text-anchor="end">8</text>
<text x="301.8" y="222" class="tk" text-anchor="end">10</text>
<text x="341.5" y="373.6" class="tk" text-anchor="middle">60</text>
<text x="373.4" y="373.6" class="tk" text-anchor="middle">70</text>
<text x="405.4" y="373.6" class="tk" text-anchor="middle">80</text>
<text x="437.2" y="373.6" class="tk" text-anchor="middle">90</text>
<text x="469.2" y="373.6" class="tk" text-anchor="middle">100</text>
<text x="405.5" y="384.3" class="ax" text-anchor="middle">Vehicle Number</text>
<text transform="translate(288.6,290.6) rotate(-90)" class="ax" text-anchor="middle">Relative Percentage Deviation(%)</text>
<polyline fill="none" stroke="#2626ff" stroke-width="1.05" points="341.5,329.5 373.5,333.2 405.5,334.5 437.5,335 469.5,337.6"/>
<path fill="none" stroke="#2626ff" stroke-width="1.05" d="M341.5 312.5V345.5M338.2 312.5H344.8M338.2 345.5H344.8"/>
<path fill="none" stroke="#2626ff" stroke-width="1.05" d="M373.5 316.5V350.5M370.2 316.5H376.8M370.2 350.5H376.8"/>
<path fill="none" stroke="#2626ff" stroke-width="1.05" d="M405.5 317.5V351.5M402.2 317.5H408.8M402.2 351.5H408.8"/>
<path fill="none" stroke="#2626ff" stroke-width="1.05" d="M437.5 318.5V352.5M434.2 318.5H440.8M434.2 352.5H440.8"/>
<path fill="none" stroke="#2626ff" stroke-width="1.05" d="M469.5 320.5V354.5M466.2 320.5H472.8M466.2 354.5H472.8"/>
<polyline fill="none" stroke="#ff2020" stroke-width="1.05" points="341.5,262.9 373.5,251.4 405.5,257.4 437.5,249.7 469.5,243.1"/>
<path fill="none" stroke="#ff2020" stroke-width="1.05" d="M341.5 246.5V279.5M338.2 246.5H344.8M338.2 279.5H344.8"/>
<path fill="none" stroke="#ff2020" stroke-width="1.05" d="M373.5 234.5V267.5M370.2 234.5H376.8M370.2 267.5H376.8"/>
<path fill="none" stroke="#ff2020" stroke-width="1.05" d="M405.5 240.5V273.5M402.2 240.5H408.8M402.2 273.5H408.8"/>
<path fill="none" stroke="#ff2020" stroke-width="1.05" d="M437.5 233.5V266.5M434.2 233.5H440.8M434.2 266.5H440.8"/>
<path fill="none" stroke="#ff2020" stroke-width="1.05" d="M469.5 226.5V259.5M466.2 226.5H472.8M466.2 259.5H472.8"/>
<polyline fill="none" stroke="#ff20ff" stroke-width="1.05" points="341.5,298.5 373.5,295.8 405.5,289.6 437.5,291.8 469.5,272.7"/>
<path fill="none" stroke="#ff20ff" stroke-width="1.05" d="M341.5 281.5V315.5M338.2 281.5H344.8M338.2 315.5H344.8"/>
<path fill="none" stroke="#ff20ff" stroke-width="1.05" d="M373.5 279.5V312.5M370.2 279.5H376.8M370.2 312.5H376.8"/>
<path fill="none" stroke="#ff20ff" stroke-width="1.05" d="M405.5 272.5V306.5M402.2 272.5H408.8M402.2 306.5H408.8"/>
<path fill="none" stroke="#ff20ff" stroke-width="1.05" d="M437.5 275.5V308.5M434.2 275.5H440.8M434.2 308.5H440.8"/>
<path fill="none" stroke="#ff20ff" stroke-width="1.05" d="M469.5 255.5V289.5M466.2 255.5H472.8M466.2 289.5H472.8"/>
<polyline fill="none" stroke="#1f8f1f" stroke-width="1.05" points="341.5,310.3 373.5,311.2 405.5,314.1 437.5,309 469.5,291.4"/>
<path fill="none" stroke="#1f8f1f" stroke-width="1.05" d="M341.5 293.5V327.5M338.2 293.5H344.8M338.2 327.5H344.8"/>
<path fill="none" stroke="#1f8f1f" stroke-width="1.05" d="M373.5 294.5V327.5M370.2 294.5H376.8M370.2 327.5H376.8"/>
<path fill="none" stroke="#1f8f1f" stroke-width="1.05" d="M405.5 297.5V331.5M402.2 297.5H408.8M402.2 331.5H408.8"/>
<path fill="none" stroke="#1f8f1f" stroke-width="1.05" d="M437.5 292.5V326.5M434.2 292.5H440.8M434.2 326.5H440.8"/>
<path fill="none" stroke="#1f8f1f" stroke-width="1.05" d="M469.5 275.5V308.5M466.2 275.5H472.8M466.2 308.5H472.8"/>
<rect x="507.9" y="222.5" width="38.7" height="44.7" fill="#fff" stroke="#cfcfcf" stroke-width="0.9"/>
<text x="527.25" y="228.3" class="lg" text-anchor="middle">Algorithm</text>
<line x1="508.8" y1="235.4" x2="520.9" y2="235.4" stroke="#2626ff" stroke-width="1.4"/>
<rect x="514.2" y="234.5" width="1.8" height="1.8" fill="#2626ff" opacity="0.8"/>
<text x="524.1" y="237.4" class="lg">MAVTO</text>
<line x1="508.8" y1="244.85" x2="520.9" y2="244.85" stroke="#ff2020" stroke-width="1.4"/>
<rect x="514.2" y="243.95" width="1.8" height="1.8" fill="#ff2020" opacity="0.8"/>
<text x="524.1" y="246.85" class="lg">MONSA</text>
<line x1="508.8" y1="254.3" x2="520.9" y2="254.3" stroke="#ff20ff" stroke-width="1.4"/>
<rect x="514.2" y="253.4" width="1.8" height="1.8" fill="#ff20ff" opacity="0.8"/>
<text x="524.1" y="256.3" class="lg">TAVF</text>
<line x1="508.8" y1="263.75" x2="520.9" y2="263.75" stroke="#1f8f1f" stroke-width="1.4"/>
<rect x="514.2" y="262.85" width="1.8" height="1.8" fill="#1f8f1f" opacity="0.8"/>
<text x="524.1" y="265.75" class="lg">TFPVTO</text>
<text x="337.5" y="403.7" class="cap" textLength="159.6" lengthAdjust="spacingAndGlyphs">(<tspan font-weight="bold">d</tspan>) Task deadline [0.5, 1.5] s</text>
</g>
</svg>
</body></html>
